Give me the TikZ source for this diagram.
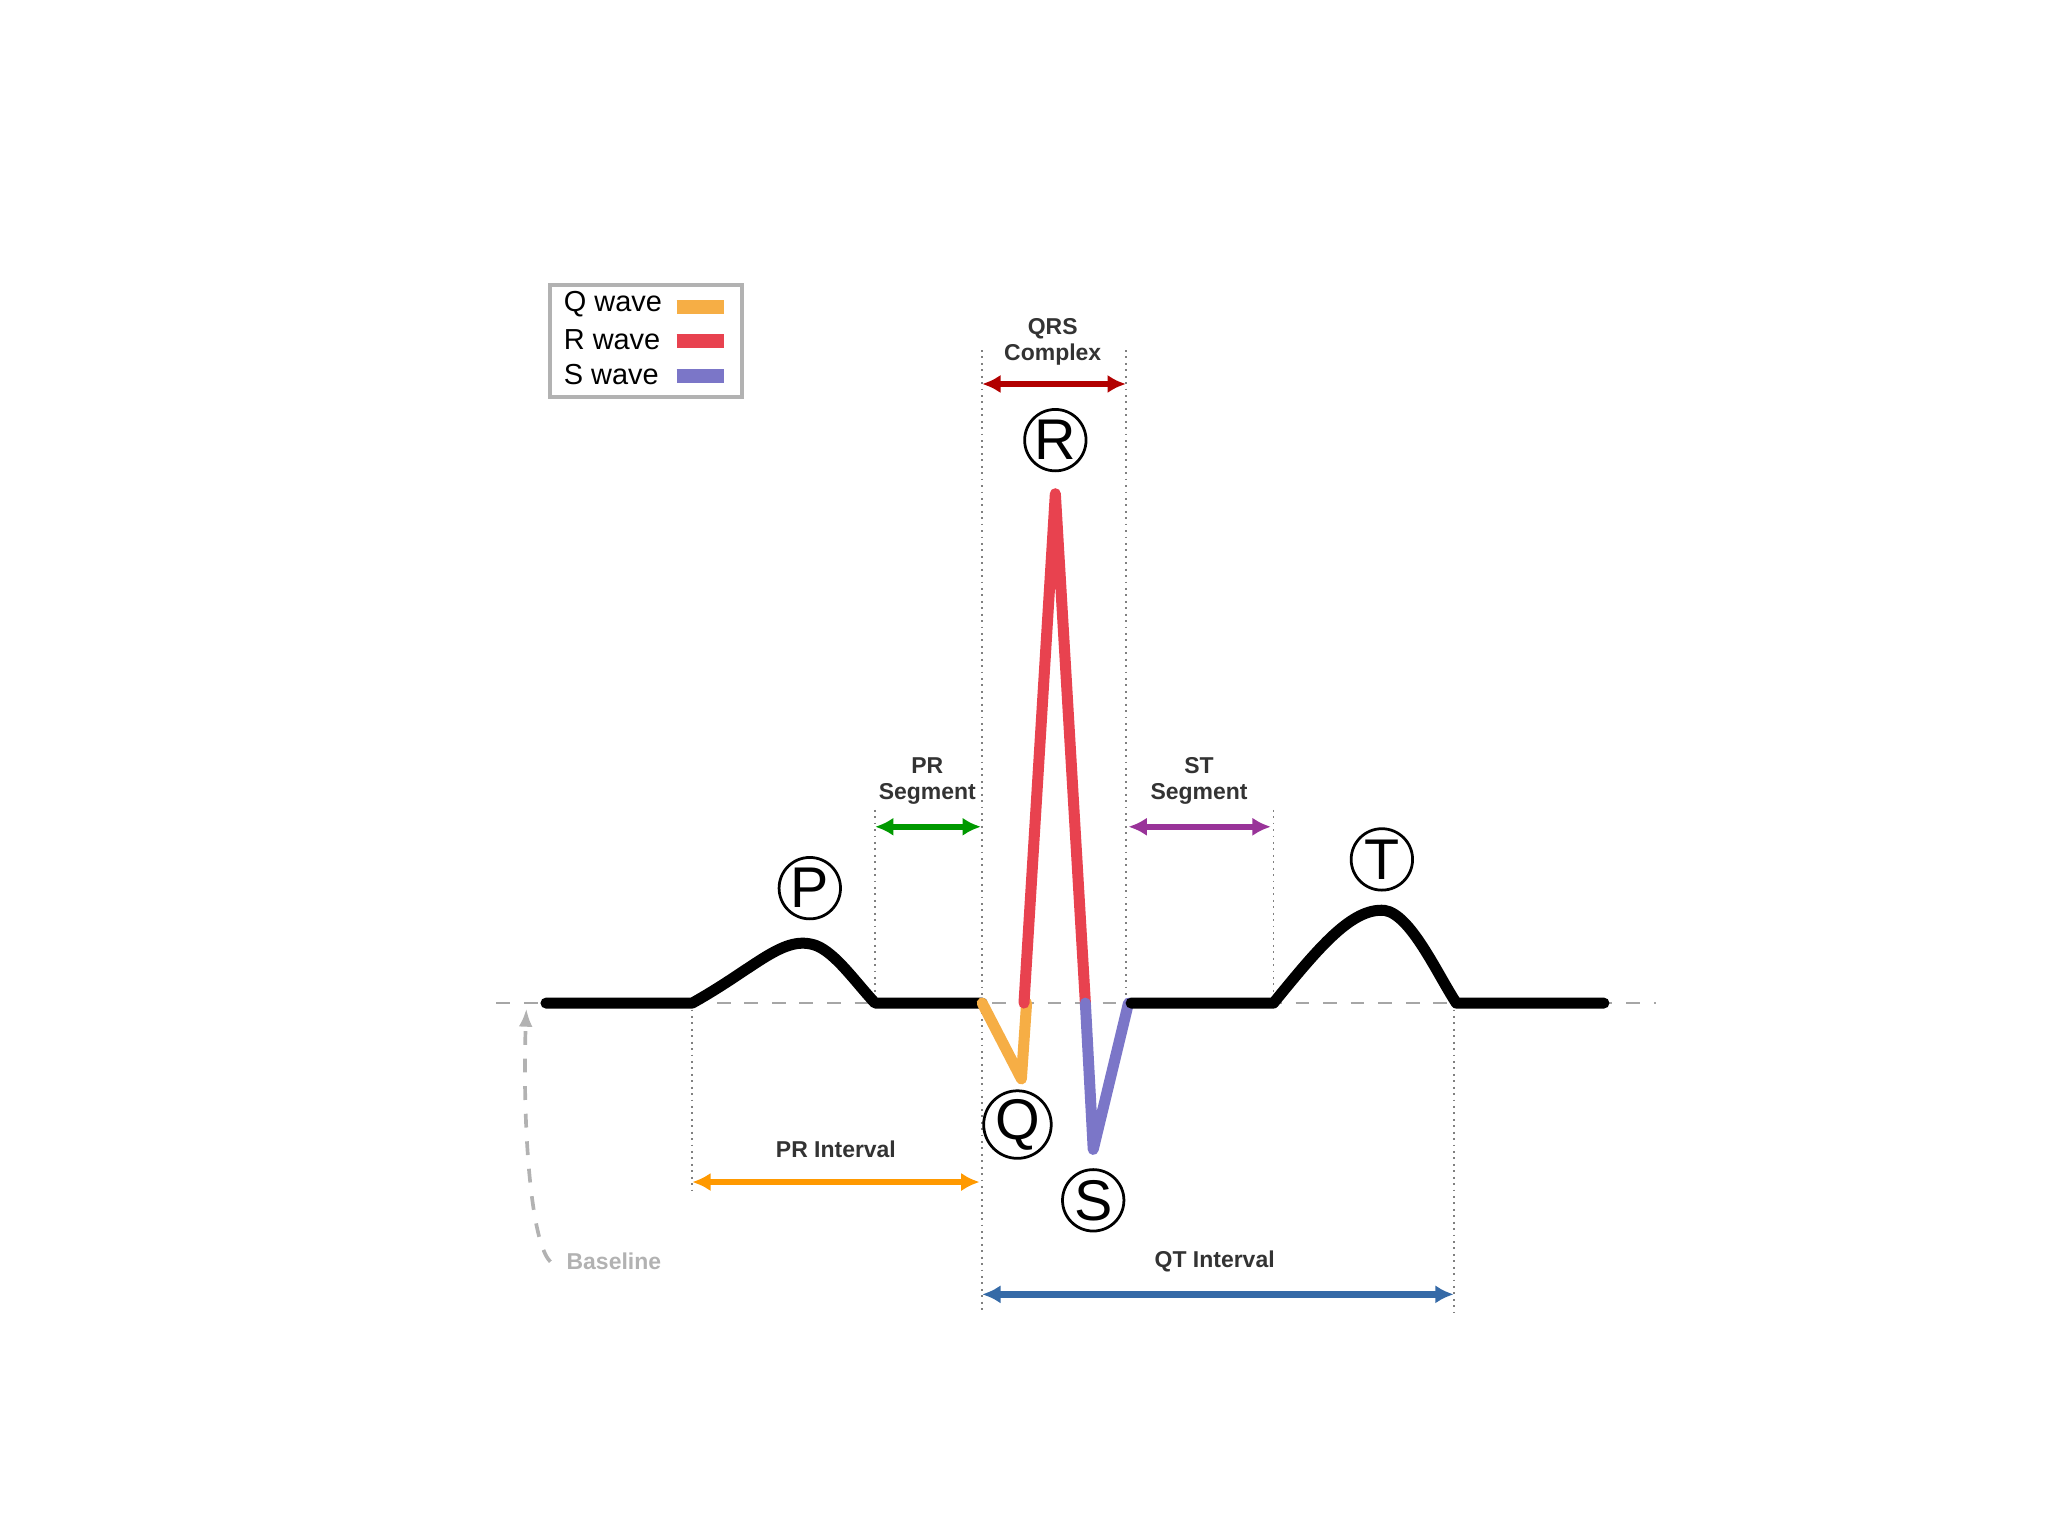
\documentclass[tikz,border=0pt]{standalone}
\usepackage{fontspec}
\setmainfont{Liberation Sans}
\usetikzlibrary{arrows.meta}
\definecolor{qcol}{HTML}{F6AE45}
\definecolor{rcol}{HTML}{E8424F}
\definecolor{scol}{HTML}{7B76C8}
\begin{document}
\begin{tikzpicture}[x=0.01cm,y=-0.01cm]
    \tikzset{Trace/.style={line width=2.4pt,line join=round,line cap=round},%
        Guide/.style={gray,densely dotted,line width=0.4pt},%
        Span/.style={line width=1.4pt,{Latex[length=4pt,width=4pt]}-{Latex[length=4pt,width=4pt]}},%
        Wave/.style={circle,draw=black,line width=0.6pt,minimum size=0.47cm,inner sep=0pt,font=\fontsize{12.5}{12.5}\selectfont},%
        Tag/.style={font=\bfseries\fontsize{5}{5.6}\selectfont,align=center,text=black!80},%
        Key/.style={font=\fontsize{6.3}{6.3}\selectfont,anchor=west,inner sep=0pt}}
    \useasboundingbox (0,0) rectangle (1568,1176);

    % baseline
    \coordinate (b1) at (380,768);
    \coordinate (b2) at (1268,768);
    \draw[gray!70,dashed,line width=0.6pt] (b1) -- (b2);

    % guides
    \draw[Guide] (752,268) -- (752,1005);
    \draw[Guide] (862,268) -- (862,770);
    \draw[Guide] (670,620) -- (670,768);
    \draw[Guide] (975,620) -- (975,768);
    \draw[Guide] (530,768) -- (530,915);
    \draw[Guide] (1113,768) -- (1113,1005);

    % trace
    \draw[Trace] (418,768) -- (530,768) .. controls (580,740) and (600,715) .. (625,724)
        .. controls (640,730) and (655,752) .. (670,768) -- (752,768);
    \draw[Trace,qcol] (752,768) -- (782,826) -- (786,768);
    \draw[Trace,rcol] (784,768) -- (808,378) -- (831,768);
    \draw[Trace,scol] (831,768) -- (837,880) -- (864,768);
    \draw[Trace] (866,768) -- (975,768) .. controls (1010,725) and (1035,695) .. (1060,697)
        .. controls (1080,700) and (1100,745) .. (1115,768) -- (1228,768);

    % wave names
    \node[Wave] (P) at (620,680) {P};
    \node[Wave] (R) at (808,337) {R};
    \node[Wave] (Q) at (779,861) {Q};
    \node[Wave] (S) at (837,919) {S};
    \node[Wave] (T) at (1058,658) {T};

    % spans
    \coordinate (qrsL) at (752,294); \coordinate (qrsR) at (862,294);
    \coordinate (prsL) at (670,633); \coordinate (prsR) at (751,633);
    \coordinate (stL) at (864,633); \coordinate (stR) at (973,633);
    \coordinate (priL) at (530,905); \coordinate (priR) at (750,905);
    \coordinate (qtL) at (752,991); \coordinate (qtR) at (1113,991);
    \draw[Span,red!70!black] (qrsL) -- (qrsR);
    \draw[Span,green!60!black] (prsL) -- (prsR);
    \draw[Span,violet!80] (stL) -- (stR);
    \draw[Span,orange!80!yellow] (priL) -- (priR);
    \draw[Span,cyan!50!blue!80!black] (qtL) -- (qtR);

    \node[Tag] (qrs) at (806,262) {QRS\\Complex};
    \node[Tag] (prs) at (710,598) {PR\\Segment};
    \node[Tag] (sts) at (918,598) {ST\\Segment};
    \node[Tag] (pri) at (640,880) {PR Interval};
    \node[Tag] (qti) at (930,966) {QT Interval};
    \node[Tag,text=gray!60] (base) at (470,966) {Baseline};
    \coordinate (bfoot) at (403,772);
    \draw[gray!60,dashed,line width=0.8pt,-{Latex[length=4pt,width=3pt]}] (base.west) .. controls (405,950) and (400,850) .. (bfoot);

    % legend
    \draw[gray!60,line width=0.8pt,fill=white] (421,218) rectangle (568,304);
    \node[Key] (kq) at (431,233) {Q wave};
    \node[Key] (kr) at (431,260) {R wave};
    \node[Key] (ks) at (431,287) {S wave};
    \draw[qcol,line width=3pt] (518,235) -- (554,235);
    \draw[rcol,line width=3pt] (518,261) -- (554,261);
    \draw[scol,line width=3pt] (518,288) -- (554,288);
\end{tikzpicture}
\end{document}
